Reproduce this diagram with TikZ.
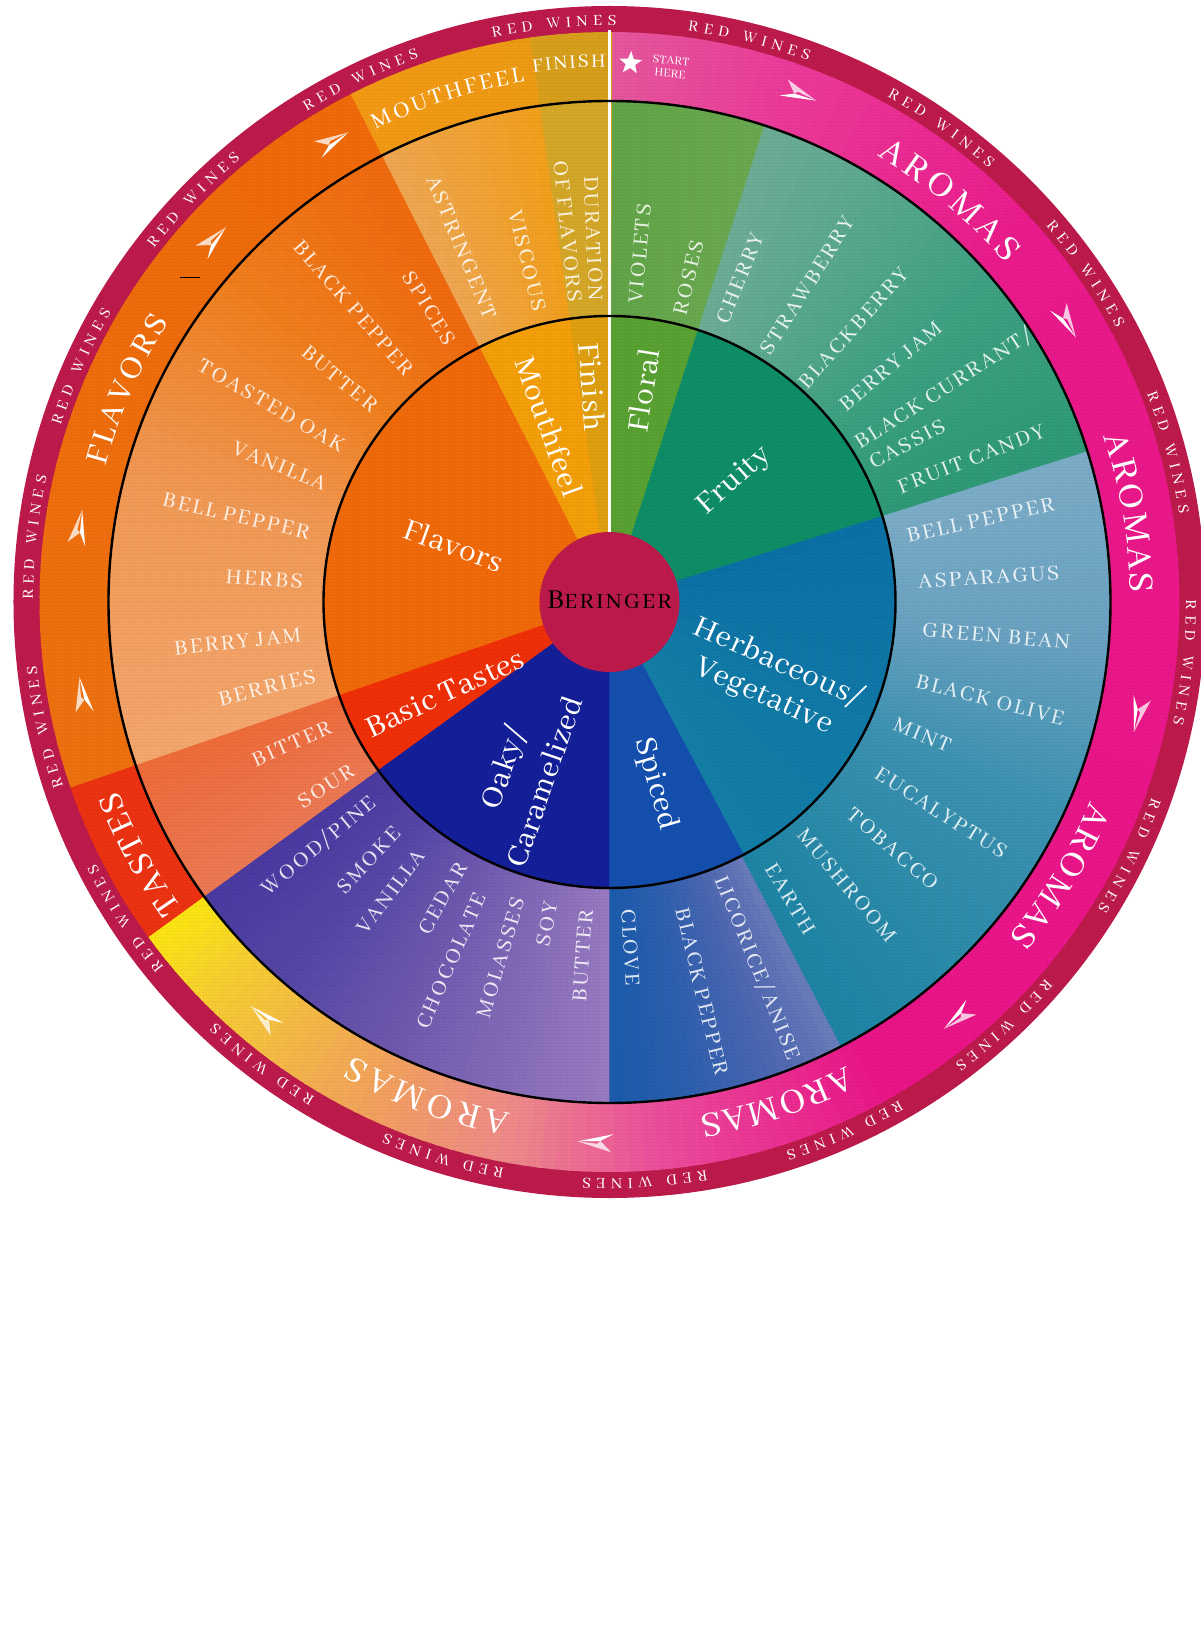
\documentclass[tikz,border=0pt]{standalone}
\usepackage{fontspec}
\usetikzlibrary{decorations.text,shapes.geometric}
\setmainfont{Abhaya Libre}
\newfontfamily\lf[LetterSpace=9]{Abhaya Libre}
\newfontfamily\wf{Abhaya Libre}
\newfontfamily\nf[LetterSpace=2]{Abhaya Libre}
\definecolor{ringred}{HTML}{BE1A4B}
\newcount\lc
\newcommand{\sect}[6]{% th1 th2 r1 r2 col1 col2
  \definecolor{ca}{HTML}{#5}\definecolor{cb}{HTML}{#6}%
  \pgfmathtruncatemacro\nn{max(1,ceil((#2-#1)/1.5))}%
  \foreach \i in {1,...,\nn}{%
    \pgfmathsetmacro\ta{90-(#1+(#2-#1)*(\i-1)/\nn)}%
    \pgfmathsetmacro\tb{90-(#1+(#2-#1)*\i/\nn)-0.3}%
    \pgfmathsetmacro\pp{100*(\i-0.5)/\nn}%
    \colorlet{cc}{cb!\pp!ca}%
    \fill[cc] (\ta:#3) -- (\ta:#4) arc[start angle=\ta,end angle=\tb,radius=#4] -- (\tb:#3) arc[start angle=\tb,end angle=\ta,radius=#3] -- cycle;
  }}
\newcommand{\rl}[3]{% theta radius text
  \global\advance\lc by 1
  \pgfmathsetmacro\rot{ifthenelse(#1<180,90-#1,270-#1)}%
  \pgfmathsetmacro\myang{90-#1}%
  \node[wl,rotate=\rot] (lab\the\lc) at (\myang:#2) {#3};}
\newcommand{\rt}[6]{% th1 th2 r size colorspec text
  \pgfmathsetmacro\ta{90-#1}\pgfmathsetmacro\tb{90-#2}%
  \path[decorate,decoration={text along path,text align=fit to path,
     text={|\color{white}\wf\fontsize{#4}{#4}\selectfont|#6}}]
     (\ta:#3) arc[start angle=\ta,end angle=\tb,radius=#3];}
\newcommand{\dart}[2]{%
  \pgfmathsetmacro\myang{90-#1}%
  \fill[white,shift={(\myang:#2)},rotate=-#1] (18,0) -- (-5,-1) -- (-18,-8) -- cycle;
  \fill[white,opacity=.75,shift={(\myang:#2)},rotate=-#1] (18,0) -- (-16,10) -- (-5,-1) -- (-2,2) -- cycle;}
\tikzset{
  wl/.style={text=white,text opacity=.85,font=\lf\fontsize{23.5}{24}\selectfont,inner sep=0pt},
  il/.style={text=white,font=\nf\fontsize{33.5}{36}\selectfont,inner sep=0pt,align=center},
}
\begin{document}
\begin{tikzpicture}[x=1pt,y=1pt]
\useasboundingbox (-609.5,-1050) rectangle (590.5,602);
\fill[white] (-609.5,-1050) rectangle (590.5,602);
% rim
\fill[ringred] (0,0) circle[radius=596];
% outer colour band
\sect{0}{20}{501}{570}{E8589E}{EE3A9A}
\sect{20}{50}{501}{570}{EE3A9A}{EC1A8C}
\sect{50}{150}{501}{570}{EC1A8C}{EC1489}
\sect{150}{175}{501}{570}{EC1489}{EE4F9E}
\sect{175}{190}{501}{570}{EE4F9E}{F08A8C}
\sect{190}{205}{501}{570}{F08A8C}{F4A25F}
\sect{205}{225}{501}{570}{F4A25F}{F9CF33}
\sect{225}{234}{501}{570}{F9CF33}{FFE812}
\sect{234}{251}{501}{570}{EE3312}{EE3312}
\sect{251}{333}{501}{570}{F0720F}{F26A0A}
\sect{333}{352}{501}{570}{F59A14}{F09C14}
\sect{352}{360}{501}{570}{D9A01C}{D9A01C}
% middle band
\sect{0}{18}{286}{501}{62A648}{6AA950}
\sect{18}{30}{286}{501}{6FAE97}{5FAB93}
\sect{30}{50}{286}{501}{5FAB93}{3FA283}
\sect{50}{72.5}{286}{501}{3FA283}{2E9B78}
\sect{72.5}{95}{286}{501}{7DAEC9}{6AA3C2}
\sect{95}{115}{286}{501}{6AA3C2}{3E93B3}
\sect{115}{152.5}{286}{501}{3E93B3}{1E85A5}
\sect{152.5}{160}{286}{501}{6C7EBC}{5068B3}
\sect{160}{170}{286}{501}{5068B3}{2F60B0}
\sect{170}{180}{286}{501}{2F60B0}{1A5CAE}
\sect{180}{200}{286}{501}{9A7CC2}{7A62B5}
\sect{200}{220}{286}{501}{7A62B5}{5747A7}
\sect{220}{234}{286}{501}{5747A7}{4B3AA2}
\sect{234}{251}{286}{501}{EE7B55}{F06C3A}
\sect{251}{285}{286}{501}{F6A86E}{F39A55}
\sect{285}{310}{286}{501}{F39A55}{F2801E}
\sect{310}{333}{286}{501}{F2801E}{F26A0E}
\sect{333}{352}{286}{501}{F1A852}{F4A11C}
\sect{352}{360}{286}{501}{D6A828}{D6A828}
% inner band
\sect{0}{18}{60}{286}{5AA333}{5AA333}
\sect{18}{72.5}{60}{286}{0E8F68}{0E8F68}
\sect{72.5}{152}{60}{286}{0B72A8}{1480A8}
\sect{152}{180}{60}{286}{1450B0}{1450B0}
\sect{180}{234}{60}{286}{141F9A}{141F9A}
\sect{234}{251}{60}{286}{F23008}{F23008}
\sect{251}{333}{60}{286}{F26A0A}{F26A0A}
\sect{333}{352}{60}{286}{F6A00A}{F6A00A}
\sect{352}{360}{60}{286}{E0A010}{E0A010}
% white start line and rings
\coordinate (c0) at (0,0);
\fill[ringred] (c0) circle[radius=70];
% printed weave texture
\begin{scope}
  \clip (c0) circle[radius=596];
  \draw[black,opacity=.035,line width=1.1pt]
    \foreach \k in {-188,...,188}{ (\k*3.2,-600) -- (\k*3.2,600) (-600,\k*3.2) -- (600,\k*3.2) };
\end{scope}
\coordinate (lineA) at (0.5,70);
\coordinate (lineB) at (0.5,572);
\draw[white,line width=3pt] (lineA) -- (lineB);
\draw[black,line width=2.4pt] (c0) circle[radius=501];
\draw[black,line width=2.4pt] (c0) circle[radius=286];
\coordinate (tickA) at (-429.5,325);
\coordinate (tickB) at (-409.5,325);
\draw[black,line width=.8pt] (tickA) -- (tickB);
\node[font=\lf\fontsize{30}{30}\selectfont,text=black,inner sep=0pt] (beringer) at (0,2) {B\fontsize{24}{24}\selectfont ERINGER};
% rim text
\foreach \c in {354.5,14,35,55.4,75,96,116,137,156,176.5,196.7,216.9,236.8,257.5,276.4,294,314,334.5}{
  \pgfmathsetmacro\ca{\c-6.2}\pgfmathsetmacro\cb{\c+6.2}
  \rt{\ca}{\cb}{576.5}{17}{}{RED WINES}
}
% band titles
\rt{31}{49.5}{521}{39}{}{AROMAS}
\rt{71.5}{89}{521}{39}{}{AROMAS}
\rt{112.5}{130}{521}{39}{}{AROMAS}
\rt{153}{170}{521}{39}{}{AROMAS}
\rt{191}{209.5}{521}{39}{}{AROMAS}
\rt{234.5}{249}{526}{37}{}{TASTES}
\rt{285}{302.5}{522}{35}{}{FLAVORS}
\rt{333.7}{350.7}{527}{25}{}{MOUTHFEEL}
\rt{351.8}{359.6}{535}{21}{}{FINISH}
% darts
\foreach \t/\r in {20.5/542,58.5/536,102/540,140/542,181.5/540,219.7/540,260/535,278/535,312.4/536,329/537}{
  \dart{\t}{\r}
}
% star
\node[star,star points=5,star point ratio=2.4,fill=white,minimum size=24pt,inner sep=0pt,rotate=-4] (star) at (21,539) {};
\node[text=white,font=\wf\fontsize{13}{13}\selectfont,align=center,rotate=-5,inner sep=0pt] (start) at (61,535) {START\\HERE};
% middle band labels
\rl{5}{350}{VIOLETS}
\rl{13.7}{334}{ROSES}
\rl{22}{349}{CHERRY}
\rl{32}{373}{STRAWBERRY}
\rl{41.7}{367}{BLACKBERRY}
\rl{50}{367}{BERRY JAM}
\rl{57.5}{397}{BLACK CURRANT/}
\rl{62}{337}{CASSIS}
\rl{68.4}{389}{FRUIT CANDY}
\rl{77.5}{380}{BELL PEPPER}
\rl{86.3}{380}{ASPARAGUS}
\rl{95}{388}{GREEN BEAN}
\rl{104.4}{393}{BLACK OLIVE}
\rl{113}{340}{MINT}
\rl{122.4}{393}{EUCALYPTUS}
\rl{131}{376}{TOBACCO}
\rl{140}{370}{MUSHROOM}
\rl{148.6}{348}{EARTH}
\rl{158}{395}{LICORICE/ANISE}
\rl{166.6}{400}{BLACK PEPPER}
\rl{176.5}{346}{CLOVE}
\rl{184.3}{355}{BUTTER}
\rl{191}{328}{SOY}
\rl{197}{372}{MOLASSES}
\rl{203.8}{392}{CHOCOLATE}
\rl{209.4}{340}{CEDAR}
\rl{217}{363}{VANILLA}
\rl{223}{353}{SMOKE}
\rl{230}{379}{WOOD/PINE}
\rl{237}{338}{SOUR}
\rl{246}{348}{BITTER}
\rl{256}{353}{BERRIES}
\rl{263.9}{374}{BERRY JAM}
\rl{273.8}{346}{HERBS}
\rl{283}{383}{BELL PEPPER}
\rl{292.4}{357}{VANILLA}
\rl{300.2}{391}{TOASTED OAK}
\rl{309.6}{350}{BUTTER}
\rl{319}{390}{BLACK PEPPER}
\rl{328.5}{345}{SPICES}
\rl{337.4}{384}{ASTRINGENT}
\rl{346.5}{351}{VISCOUS}
\rl{353.6}{373}{OF FLAVORS}
\rl{357.5}{364}{DURATION}
% inner band labels
\node[il,rotate=-86] (nfinish) at (-17,215) {Finish};
\node[il,rotate=-70] (nmouth) at (-60,175) {Mouthfeel};
\node[il,rotate=81] (nfloral) at (34,212) {Floral};
\node[il,rotate=42] (nfruity) at (125,121) {Fruity};
\node[il,rotate=-24] (nherb) at (162,-77) {Herbaceous/\\Vegetative};
\node[il,rotate=-74] (nspiced) at (46,-182) {Spiced};
\node[il,rotate=71,font=\nf\fontsize{33.5}{44}\selectfont] (noaky) at (-87,-172) {Oaky/\\Caramelized};
\node[il,rotate=25] (nbasic) at (-165,-91) {Basic Tastes};
\node[il,rotate=-20] (nflav) at (-156,57) {Flavors};
\end{tikzpicture}
\end{document}
